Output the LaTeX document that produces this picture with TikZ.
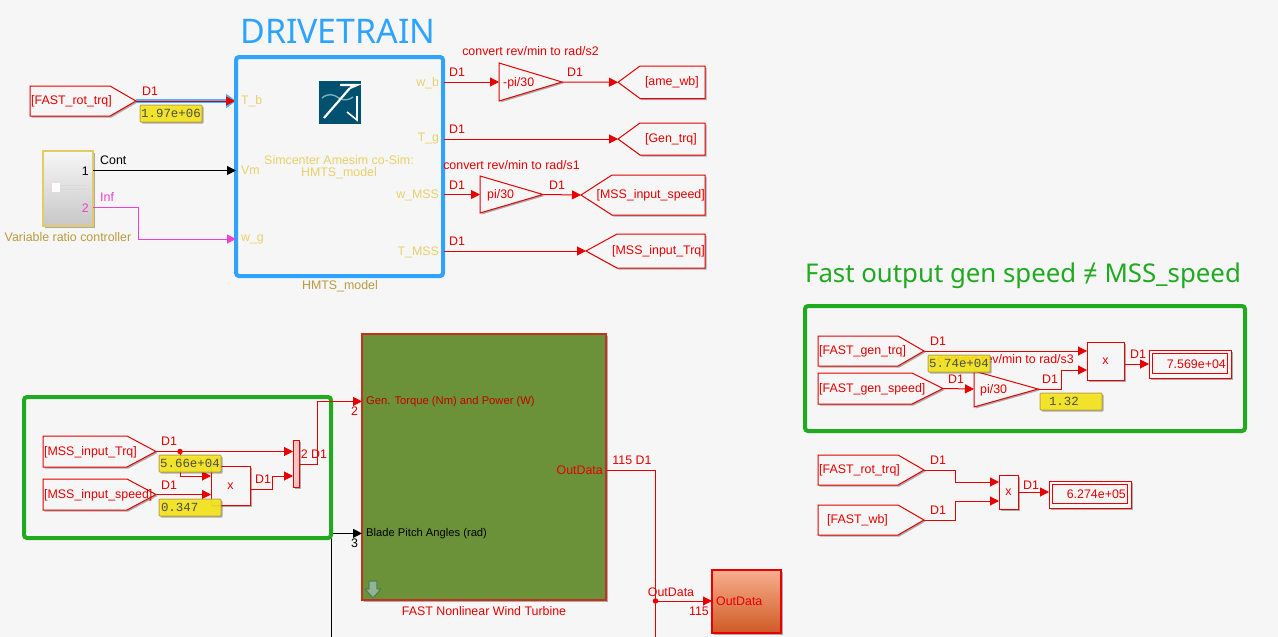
\documentclass[tikz,border=0pt]{standalone}
\usepackage{fontspec}
\setmainfont{Liberation Sans}
\newfontfamily\monof{Liberation Mono}
\newfontfamily\titlef{Noto Sans}
\usetikzlibrary{arrows.meta,shadows,shadings}
\definecolor{bgc}{HTML}{F6F6F6}
\definecolor{wred}{HTML}{E60000}
\definecolor{gold}{HTML}{B89B3E}
\definecolor{pale}{HTML}{E8D06A}
\definecolor{bluec}{HTML}{2FA4FF}
\definecolor{greenc}{HTML}{1FAA1F}
\definecolor{magc}{HTML}{F040D0}
\definecolor{disp}{HTML}{F9E81C}
\tikzset{
  shad/.style={drop shadow={shadow xshift=1.5pt,shadow yshift=-1.5pt,fill=black,opacity=.3}},
  lbl/.style={inner sep=0pt,yshift=-.4pt,font=\fontsize{12.4}{13}\selectfont,text=wred},
  sig/.style={draw=wred,line width=1pt,-{Triangle[length=9pt,width=9pt]}},
  wire/.style={draw=wred,line width=1pt},
  blk/.style={draw=wred,line width=1pt,fill=bgc,shad,line join=miter},
  hole/.style={inner sep=0pt,outer sep=0pt},
  dsp/.style={draw=gold,fill=disp,fill opacity=.9,draw opacity=.9,line width=1pt,rounded corners=1pt,inner sep=0pt,
     text opacity=1,text=black!70,font=\monof\fontsize{12.4}{13}\selectfont,shad},
  dot/.style={circle,fill=wred,inner sep=0pt,minimum size=5.5pt},
  pt/.style={inner xsep=5pt,inner ysep=0pt,outer sep=0pt,font=\fontsize{12.4}{13}\selectfont,text=pale},
  box/.style={rounded corners=3pt,line width=4pt},
  ttl/.style={inner sep=0pt,font=\titlef}
}
% name,x1,y1,x2,y2,cut : invisible rectangular node spanning the block
\newcommand{\spanNode}[5]{%
  \pgfmathsetmacro{\cxx}{(#2+#4)/2}\pgfmathsetmacro{\cyy}{(#3+#5)/2}%
  \pgfmathsetmacro{\wdd}{#4-#2}\pgfmathsetmacro{\htt}{#5-#3}%
  \node[hole,minimum width=\wdd pt,minimum height=\htt pt] (#1) at (\cxx,\cyy) {};}
% From block: name,x1,y1,x2,y2,cut,text-x,text
\newcommand{\fromblk}[8]{%
  \spanNode{#1}{#2}{#3}{#4}{#5}%
  \draw[blk] (#1.north west) -- ([xshift=-#6pt]#1.north east) -- (#1.east) -- ([xshift=-#6pt]#1.south east) -- (#1.south west) -- cycle;
  \node[lbl,anchor=west] (#1-t) at (#7,{(#3+#5)/2}) {#8};}
% Goto block: name,x1,y1,x2,y2,cut,text-right-x,text
\newcommand{\gotoblk}[8]{%
  \spanNode{#1}{#2}{#3}{#4}{#5}%
  \draw[blk] (#1.west) -- ([xshift=#6pt]#1.north west) -- (#1.north east) -- (#1.south east) -- ([xshift=#6pt]#1.south west) -- cycle;
  \node[lbl,anchor=east] (#1-t) at (#7,{(#3+#5)/2}) {#8};}
% Gain block: name,x1,y1,x2,y2,text-x,text
\newcommand{\gainblk}[7]{%
  \spanNode{#1}{#2}{#3}{#4}{#5}%
  \draw[blk] (#1.north west) -- (#1.east) -- (#1.south west) -- cycle;
  \node[lbl,anchor=west] (#1-t) at (#6,{(#3+#5)/2+.5}) {#7};}
% Display output block: name,x1,y1,x2,y2,text
\newcommand{\readout}[6]{%
  \spanNode{#1}{#2}{#3}{#4}{#5}%
  \draw[blk] (#1.north west) rectangle (#1.south east);
  \draw[wred,line width=.9pt] ([shift={(3.5pt,-3.5pt)}]#1.north west) rectangle ([shift={(-4pt,5pt)}]#1.south east);
  \node[lbl,anchor=east] (#1-t) at ([xshift=-5pt,yshift=.5pt]#1.east) {#6};}
\newcommand{\prodblk}[5]{%
  \spanNode{#1}{#2}{#3}{#4}{#5}%
  \draw[blk] (#1.north west) rectangle (#1.south east);
  \node[lbl] (#1-t) at (#1.center) {x};}
\begin{document}
\begin{tikzpicture}[x=1pt,y=-1pt]
\useasboundingbox (0,0) rectangle (1278,637);
\fill[bgc] (0,0) rectangle (1278,637);

% ---------- titles
\node[ttl,text=bluec,font=\titlef\fontsize{33.9}{36}\selectfont] (ttlA) at (338,31) {DRIVETRAIN};
\node[ttl,text=greenc,font=\titlef\fontsize{25.8}{28}\selectfont] (ttlB) at (1023,276) {Fast output gen speed ≠ MSS\_speed};

% ---------- HMTS block
\spanNode{hmts}{236}{57}{443}{276}
\draw[draw=bluec,box,fill=bgc,shad] (hmts.north west) rectangle (hmts.south east);
\node[lbl,text=gold] (hmtsL) at (340,286) {HMTS\_model};
\node[lbl,text=pale,align=center,font=\fontsize{12.4}{12}\selectfont] (hmtsC) at (339,167) {Simcenter Amesim co-Sim:\\HMTS\_model};
\node[pt,anchor=west] (pTb) at (236,101.5) {T\_b};
\node[pt,anchor=west] (pVm) at (236,170.5) {Vm};
\node[pt,anchor=west] (pWg) at (236,239) {w\_g};
\node[pt,anchor=east] (pWb) at (444,83) {w\_b};
\node[pt,anchor=east] (pTg) at (444,139) {T\_g};
\node[pt,anchor=east] (pWm) at (444,195.5) {w\_MSS};
\node[pt,anchor=east] (pTm) at (444,252) {T\_MSS};
% icon
\fill[fill={rgb,255:red,0;green,80;blue,112}] (319,81) rectangle (361,124);
\draw[line width=1.4pt,color={rgb,255:red,120;green,175;blue,190}] (322,98) .. controls (328,93) and (333,94) .. (339,98) .. controls (344,101) and (349,100) .. (353,97);
\draw[white,line width=2.2pt] (324,118) -- (350,88);
\draw[white,line width=2.2pt] (340,85) -- (357,85) -- (350,88);
\draw[white,line width=1.6pt] (357,96) -- (357,120) -- (347,112);

% ---------- controller
\spanNode{ctrl}{43}{151}{93}{226}
\shade[top color=bgc!90!white,middle color=bgc,bottom color=black!22,shad] (ctrl.north west) rectangle (ctrl.south east);
\draw[draw=pale!90!gold,line width=1.2pt] (ctrl.north west) rectangle (ctrl.south east);
\fill[white!70!bgc] (52,183) rectangle (60,192);
\draw[black!15,line width=.3pt] (60,185) -- (87,185) (60,189) -- (87,189);
\fill[magc!30] (50,184) rectangle (51.5,185.5) (50,188) rectangle (51.5,189.5) (50,192) rectangle (51.5,193.5) (76,193) rectangle (77.5,194.5);
\node[lbl,text=black,anchor=east] (ctrl1) at (89,170.5) {1};
\node[lbl,text=magc,anchor=east] (ctrl2) at (89,207.5) {2};
\node[lbl,text=gold] (ctrlL) at (68,237) {Variable ratio controller};
\coordinate (ctrlA) at (ctrl.east |- 0,170.5);
\coordinate (ctrlB) at (ctrl.east |- 0,207.5);

% ---------- top-left source
\fromblk{rot}{30}{86}{136}{116}{26}{31}{[FAST\_rot\_trq]}
\draw[draw=bluec!85,line width=3.5pt,-{Triangle[length=10pt,width=14pt]}] (rot.east) -- (rot.east -| pTb.west);
\draw[sig] (rot.east) -- ([xshift=-1pt]rot.east -| pTb.west);
\draw[draw=black,line width=1pt,-{Triangle[length=9pt,width=9pt]}] (ctrlA) -- (ctrlA -| pVm.west);
\draw[draw=magc,line width=1pt,-{Triangle[length=9pt,width=9pt]}] (ctrlB) -- (138,207.5) |- (pWg.west);
\node[lbl] (d1a) at (150,91) {D1};
\node[lbl,text=black,anchor=west] (lCont) at (100,160) {Cont};
\node[lbl,text=magc,anchor=west] (lInf) at (100,197) {Inf};

% ---------- right side of HMTS
\gainblk{g1}{499}{63}{562}{101}{503}{-pi/30}
\gotoblk{gAme}{618}{66}{705}{98.5}{22}{699}{[ame\_wb]}
\gotoblk{gGen}{618}{123}{705}{155}{22}{697}{[Gen\_trq]}
\gainblk{g2}{480}{176}{543}{213}{487}{pi/30}
\gotoblk{gSpd}{581}{175}{705}{215}{31}{705}{[MSS\_input\_speed]}
\gotoblk{gTrq}{586}{234}{705}{268}{31}{705}{[MSS\_input\_Trq]}
\draw[sig] (pWb.east |- g1.west) -- (g1.west);
\draw[sig] (g1.east) -- (gAme.west);
\draw[sig] (pTg.east |- gGen.west) -- (gGen.west);
\draw[sig] (pWm.east |- g2.west) -- (g2.west);
\draw[sig] (g2.east) -- (gSpd.west);
\draw[sig] (pTm.east |- gTrq.west) -- (gTrq.west);
\node[lbl] (t1) at (530.5,51) {convert rev/min to rad/s2};
\node[lbl] (t2) at (511.5,165) {convert rev/min to rad/s1};
\node[lbl] (d2) at (457,72) {D1};
\node[lbl] (d3) at (575,72) {D1};
\node[lbl] (d4) at (457,129) {D1};
\node[lbl] (d5) at (457,185) {D1};
\node[lbl] (d6) at (557,185) {D1};
\node[lbl] (d7) at (457,241) {D1};

% ---------- FAST block
\spanNode{fast}{362}{334}{606}{600}
\draw[draw={rgb,255:red,195;green,50;blue,30},line width=1.2pt,fill={rgb,255:red,107;green,146;blue,57},shad] (fast.north west) rectangle (fast.south east);
\node[lbl] (fastL) at (484,611) {FAST Nonlinear Wind Turbine};
\node[lbl,anchor=west,inner xsep=4pt,text=wred!85!black,font=\fontsize{11.2}{12}\selectfont] (fGen) at (362,401) {Gen. Torque (Nm) and Power (W)};
\node[lbl,anchor=west,inner xsep=4pt,text=black,font=\fontsize{11.2}{12}\selectfont] (fBla) at (362,533) {Blade Pitch Angles (rad)};
\node[lbl,anchor=east,inner xsep=3pt] (fOut) at (606,470) {OutData};
\draw[line width=1.2pt,draw=black!45!green!40!gray,fill=black!15!green!20!gray!70,line join=round] (369,581) -- (377,581) -- (377,589) -- (381,589) -- (373,598) -- (365,589) -- (369,589) -- cycle;
\coordinate (blOff) at (331,637);
\draw[draw=black,line width=1pt,-{Triangle[length=9pt,width=9pt]}] (blOff) |- (fBla.west);
\node[lbl,text=black] (n3) at (354.5,543) {3};
\node[lbl] (n2) at (354.5,411) {2};

% ---------- outport
\spanNode{outp}{712}{570}{781}{633}
\shade[top color={rgb,255:red,247;green,174;blue,142},middle color={rgb,255:red,245;green,170;blue,138},bottom color={rgb,255:red,208;green,90;blue,37},shad] (outp.north west) rectangle (outp.south east);
\draw[draw=wred,line width=2pt] (outp.north west) rectangle (outp.south east);
\node[lbl,anchor=west] (outpT) at (716,601) {OutData};
\node[dot] (j2) at (655.5,601) {};
\coordinate (outEnd) at (655.5,637);
\draw[wire] (fast.east |- 0,470) -- (655.5,470) -- (outEnd);
\draw[sig] (j2.center) -- (outp.west |- j2);
\node[lbl] (l115a) at (632,460) {115 D1};
\node[lbl] (lOD) at (671,592) {OutData};
\node[lbl] (l115b) at (699,611) {115};

% ---------- left green box
\spanNode{gbL}{24}{397}{331}{538}
\draw[draw=greenc,box] (gbL.north west) rectangle (gbL.south east);
\fromblk{fT}{43}{436}{156}{467}{29}{44}{[MSS\_input\_Trq]}
\fromblk{fS}{43}{479}{156}{510}{29}{44}{[MSS\_input\_speed]}
\prodblk{xm}{211}{466}{250}{505}
\spanNode{mux}{293}{440}{299}{487}
\draw[draw=wred,fill=wred!20!bgc,line width=1pt,shad] (mux.north west) rectangle (mux.south east);
\coordinate (xmA) at (211,476);
\coordinate (xmB) at (211,494.5);
\coordinate (muxA) at (293,451.5);
\coordinate (muxB) at (293,476);
\coordinate (muxO) at (299,464);
\node[dot] (j1) at (180,451.5) {};
\draw[sig] (fT.east) -- (muxA);
\draw[sig] (j1.center) |- (xmA);
\draw[sig] (fS.east) -- (xmB);
\draw[sig] (xm.east |- 0,489) -- (272,489) -- (272,476) -- (muxB);
\draw[sig] (muxO) -- (317,464) |- (fGen.west);
\node[lbl] (d8) at (169,441) {D1};
\node[lbl] (d9) at (169,485) {D1};
\node[lbl] (d10) at (263,479) {D1};
\node[lbl] (d11) at (314,454) {2 D1};
\node[dsp,minimum width=62pt,minimum height=17pt] (dT) at (190,463.5) {5.66e+04};
\node[dsp,minimum width=62pt,minimum height=17pt,align=left,text width=58pt] (dS) at (190,507.5) {0.347};
\node[dsp,minimum width=62pt,minimum height=17pt] (dR) at (171,113.5) {1.97e+06};

% ---------- right green box
\spanNode{gbR}{805}{306}{1245}{431}
\draw[draw=greenc,box] (gbR.north west) rectangle (gbR.south east);
\fromblk{fgT}{818}{336}{924}{366}{26}{819}{[FAST\_gen\_trq]}
\fromblk{fgS}{818}{373}{943}{404}{31}{819}{[FAST\_gen\_speed]}
\prodblk{xg}{1087}{342}{1124}{380}
\readout{rg}{1149}{350}{1231}{378}{7.569e+04}
\gainblk{g3}{974}{371}{1038}{407}{980}{pi/30}
\coordinate (xgA) at (1087,351);
\coordinate (xgB) at (1087,370);
\draw[sig] (fgT.east) -- (xgA);
\draw[sig] (fgS.east) -- (g3.west);
\draw[sig] (g3.east) -- (1061,389) -- (1061,370) -- (xgB);
\draw[sig] (xg.east |- 0,364) -- (rg.west |- 0,364);
\node[lbl] (t3) at (1005.5,359) {convert rev/min to rad/s3};
\node[lbl] (d12) at (938,341) {D1};
\node[lbl] (d13) at (956,379) {D1};
\node[lbl] (d14) at (1050,379) {D1};
\node[lbl] (d15) at (1138,354) {D1};
\node[dsp,minimum width=62pt,minimum height=17pt] (dG) at (959,363.5) {5.74e+04};
\node[dsp,minimum width=62pt,minimum height=17pt,align=left,text width=44pt] (dP) at (1071,401.5) {1.32};

% ---------- lower right
\fromblk{fr}{818}{455}{924}{485}{26}{819}{[FAST\_rot\_trq]}
\fromblk{fw}{818}{505}{924}{535}{26}{827}{[FAST\_wb]}
\prodblk{xr}{999}{475}{1018}{509}
\readout{rr}{1049}{481}{1131}{508}{6.274e+05}
\coordinate (xrA) at (999,482);
\coordinate (xrB) at (999,501);
\draw[sig] (fr.east) -- (955,470) -- (955,482) -- (xrA);
\draw[sig] (fw.east) -- (955,520) -- (955,501) -- (xrB);
\draw[sig] (xr.east |- 0,492) -- (rr.west |- 0,492);
\node[lbl] (d16) at (938,460) {D1};
\node[lbl] (d17) at (938,510) {D1};
\node[lbl] (d18) at (1031,485) {D1};
\end{tikzpicture}
\end{document}
